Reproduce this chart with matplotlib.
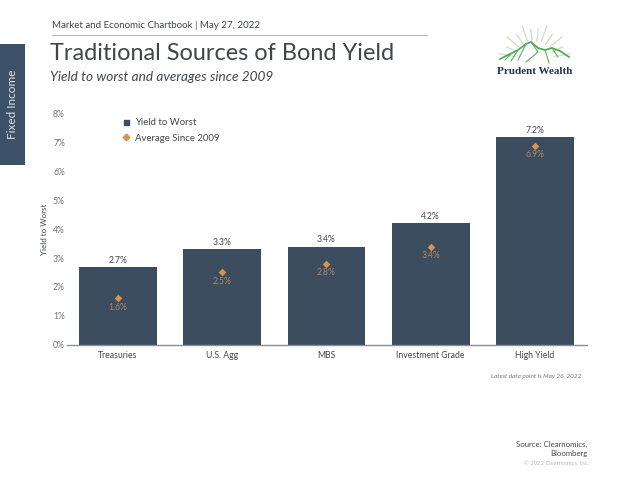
import math
import matplotlib
matplotlib.use("Agg")
import matplotlib.pyplot as plt
from matplotlib.patches import Rectangle
from matplotlib.lines import Line2D

categories = ["Treasuries", "U.S. Agg", "MBS", "Investment Grade", "High Yield"]
yield_to_worst = [2.7, 3.3, 3.4, 4.2, 7.2]
average_since_2009 = [1.6, 2.5, 2.8, 3.4, 6.9]
y_ticks = [0, 1, 2, 3, 4, 5, 6, 7, 8]

NAVY = "#3b4d5f"
ORANGE = "#d9924f"
DARK = "#3f464c"
GREY = "#6f7378"
W, H = 638, 478

plt.rcParams["font.family"] = ["Lato", "DejaVu Sans"]
fig = plt.figure(figsize=(W / 100, H / 100), dpi=100, facecolor="white")

def px(x, y):
    return x / W, 1 - y / H

# Chart axes
left, right, top, bottom = 67, 587, 114, 344.5
ax = fig.add_axes([left / W, 1 - bottom / H, (right - left) / W, (bottom - top) / H])
xpos = list(range(len(categories)))
ax.bar(xpos, yield_to_worst, width=0.745, color=NAVY, zorder=2)
ax.scatter(xpos, average_since_2009, marker="D", s=15, color=ORANGE, zorder=3, linewidths=0)
for x, v, a in zip(xpos, yield_to_worst, average_since_2009):
    ax.annotate(f"{v:.1f}%", (x, v), xytext=(0, 1.5), textcoords="offset points",
                ha="center", va="bottom", fontsize=6.2, color=DARK)
    ax.annotate(f"{a:.1f}%", (x, a), xytext=(0, -3), textcoords="offset points",
                ha="center", va="top", fontsize=6.2, color="#a98a66", zorder=4)
ax.set_ylim(0, 8)
ax.set_xlim(-0.49, 4.5)
ax.set_xticks(xpos, categories)
ax.set_yticks(y_ticks, [f"{t}%" for t in y_ticks])
ax.tick_params(axis="x", length=0, pad=4.5, labelsize=6.2, labelcolor=DARK)
ax.tick_params(axis="y", length=0, pad=1.5, labelsize=6.2, labelcolor=GREY)
for s in ["top", "right", "left"]:
    ax.spines[s].set_visible(False)
ax.spines["bottom"].set_color("#8b8f93")
ax.spines["bottom"].set_linewidth(1)
ax.set_ylabel("Yield to Worst", fontsize=5.8, color=DARK, labelpad=3.5)

handles = [
    Line2D([], [], ls="", marker="s", ms=3.6, color=NAVY, label="Yield to Worst"),
    Line2D([], [], ls="", marker="D", ms=3.4, color=ORANGE, label="Average Since 2009"),
]
ax.legend(handles=handles, loc="upper left", bbox_to_anchor=(0.088, 1.004), frameon=False,
          fontsize=6.9, labelcolor=DARK, labelspacing=0.72, handletextpad=0.05,
          handlelength=1.75, borderpad=0)

# Header
fig.text(*px(52, 26), "Market and Economic Chartbook | May 27, 2022", fontsize=7.05,
         color=DARK, va="center", ha="left")
fig.add_artist(Line2D([52 / W, 427 / W], [1 - 35 / H] * 2, color="#b8babc", lw=0.8))
fig.text(*px(50, 54), "Traditional Sources of Bond Yield", fontsize=16.9, color=DARK,
         va="center", ha="left")
fig.text(*px(50, 77), "Yield to worst and averages since 2009", fontsize=9.8, color=DARK,
         style="italic", va="center", ha="left")

# Side tab
fig.add_artist(Rectangle((0, 1 - 165 / H), 25 / W, 121 / H, transform=fig.transFigure,
                         color="#3c5068", lw=0))
fig.text(*px(12.5, 104), "Fixed Income", rotation=90, fontsize=8.5, color="#dfe4ea",
         ha="center", va="center")

# Logo
cx, cy = 534.5, 60
for d in [-80, -65, -50, -35, -20, -7, 7, 20, 35, 50, 65, 80]:
    r0, r1 = (19, 31) if abs(d) in (65, 35, 7) else (20, 36)
    a = math.radians(d)
    fig.add_artist(Line2D([(cx + r0 * math.sin(a)) / W, (cx + r1 * math.sin(a)) / W],
                          [1 - (cy - r0 * math.cos(a)) / H, 1 - (cy - r1 * math.cos(a)) / H],
                          color="#d3d9c9", lw=0.9))
mountain = [(500, 59), (512, 53), (518, 50), (526, 44), (531, 42), (538, 48), (545, 50),
            (552, 48), (560, 51), (569, 57)]
fig.add_artist(Line2D([p[0] / W for p in mountain], [1 - p[1] / H for p in mountain],
                      color="#4aa84f", lw=1.2))
for seg in ([(526, 44), (518, 60)], [(531, 42), (538, 52), (526, 62)], [(545, 50), (549, 63)],
            [(512, 53), (505, 60)], [(552, 48), (558, 57)], [(518, 50), (511, 61)]):
    fig.add_artist(Line2D([p[0] / W for p in seg], [1 - p[1] / H for p in seg],
                          color="#58b35c", lw=0.8))
fig.text(*px(534.5, 71), "Prudent Wealth", fontsize=8, fontweight="bold", family="Liberation Serif",
         color="#1f3557", ha="center", va="center")

# Footer
fig.text(*px(581, 376.5), "Latest data point is May 26, 2022", fontsize=4.6, style="italic",
         color=GREY, ha="right", va="center")
fig.text(*px(587.5, 444), "Source: Clearnomics,", fontsize=5.6, color=DARK, ha="right", va="center")
fig.text(*px(587.5, 453.5), "Bloomberg", fontsize=5.6, color=DARK, ha="right", va="center")
fig.text(*px(589, 463.5), "© 2022 Clearnomics, Inc.", fontsize=4.2, color="#b5b7ba", ha="right", va="center")

fig.savefig("out.png", dpi=100)
